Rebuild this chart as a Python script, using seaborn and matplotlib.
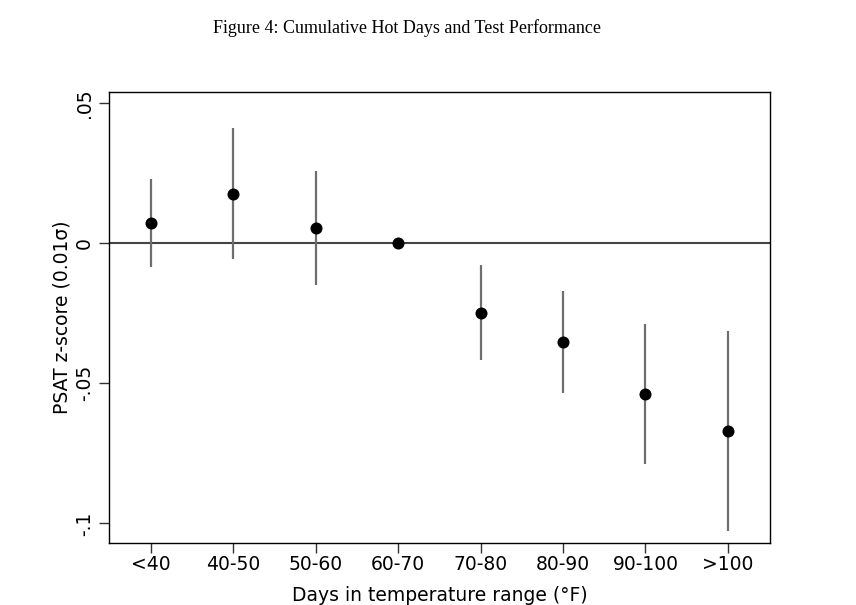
import pandas as pd
import seaborn as sns
import matplotlib.pyplot as plt

# data
bins = ['<40', '40-50', '50-60', '60-70', '70-80', '80-90', '90-100', '>100']
coef = [0.0071, 0.0177, 0.0056, 0.0, -0.0249, -0.0354, -0.0538, -0.0671]
ci_low = [-0.0086, -0.0057, -0.0148, 0.0, -0.0418, -0.0536, -0.0789, -0.1028]
ci_high = [0.0228, 0.0410, 0.0258, 0.0, -0.0079, -0.0170, -0.0288, -0.0315]

df = pd.DataFrame({'bin': bins, 'coef': coef, 'lo': ci_low, 'hi': ci_high})

sns.set_style('white')
plt.rcParams['font.family'] = ['DejaVu Sans']
plt.rcParams['text.color'] = 'black'
plt.rcParams['axes.labelcolor'] = 'black'

fig = plt.figure(figsize=(8.56, 6.05), dpi=100)
ax = fig.add_axes([0.1273, 0.1025, 0.7722, 0.7455])

# zero reference line
ax.axhline(0, color='#444444', lw=1.5, zorder=1)

# confidence intervals
ax.vlines(df['bin'], df['lo'], df['hi'], color='#6e6e6e', lw=1.6, zorder=2)

# point estimates
sns.scatterplot(data=df, x='bin', y='coef', ax=ax, color='black', s=75,
                edgecolor='black', linewidth=0, zorder=3)

ax.set_xlim(-0.507, 7.51)
ax.set_ylim(-0.107, 0.054)
ax.set_yticks([0.05, 0, -0.05, -0.1])
ax.set_yticklabels(['.05', '0', '-.05', '-.1'], rotation=90, va='center')

for sp in ax.spines.values():
    sp.set_visible(True)
    sp.set_color('black')
    sp.set_linewidth(1.0)

ax.tick_params(axis='both', which='major', direction='out', length=7,
               width=1, color='#333333', labelsize=13.5, labelcolor='black',
               bottom=True, left=True)
ax.tick_params(axis='x', pad=2)
ax.tick_params(axis='y', pad=4)

ax.set_xlabel('Days in temperature range (°F)', fontsize=13.5, labelpad=8)
ax.set_ylabel('PSAT z-score (0.01σ)', fontsize=13.5, labelpad=2)

fig.text(407 / 856, 1 - 28 / 605, 'Figure 4: Cumulative Hot Days and Test Performance',
         ha='center', va='center', fontsize=13, family='Liberation Serif')

fig.savefig('out.png', dpi=100, facecolor='white')
